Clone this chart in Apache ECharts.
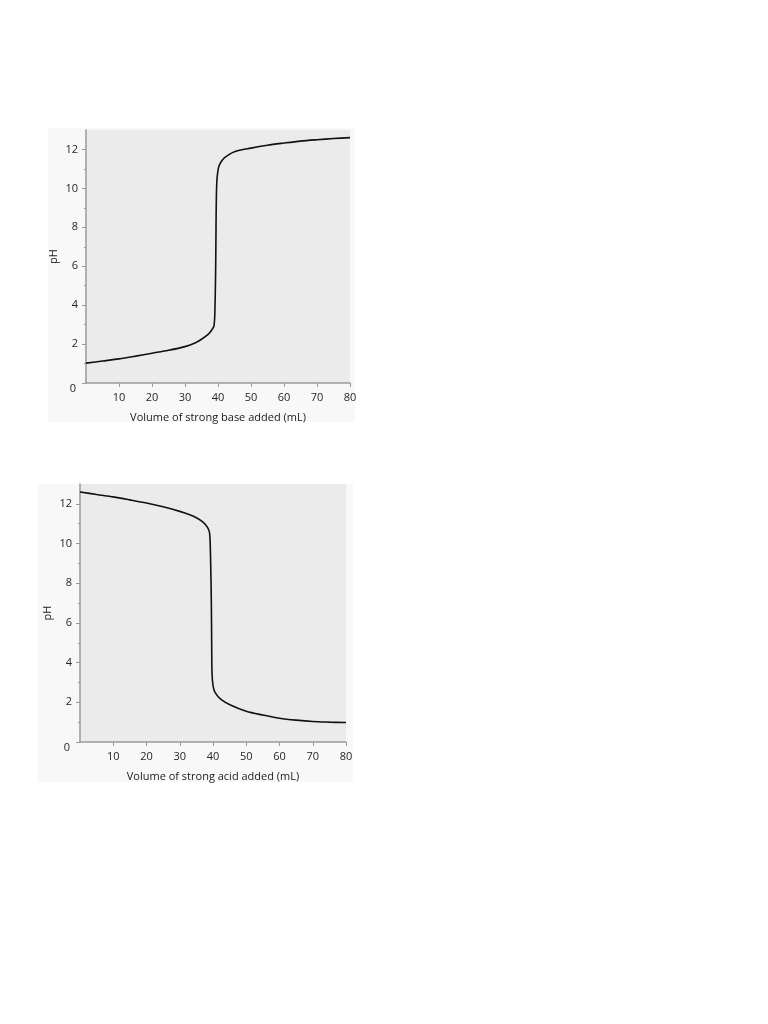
<!DOCTYPE html>
<html><head><meta charset="utf-8">
<script src="https://cdn.jsdelivr.net/npm/echarts@6/dist/echarts.min.js"></script>
<style>html,body{margin:0;padding:0;background:#fff}#c{width:768px;height:1024px}</style>
</head><body><div id="c"></div>
<script>
// Titration with strong base (top chart)
const baseVolume = [0, 5, 10, 15, 20, 25, 30, 33, 35, 37, 38, 38.8, 39.1, 39.3, 39.4, 39.5, 39.7, 40.2, 41, 42, 45, 50, 55, 60, 65, 70, 75, 80];
const basePH     = [1.02, 1.13, 1.24, 1.38, 1.53, 1.68, 1.87, 2.05, 2.25, 2.5, 2.7, 2.95, 4.0, 6.0, 8.0, 9.5, 10.5, 11.1, 11.38, 11.58, 11.88, 12.07, 12.22, 12.33, 12.43, 12.5, 12.56, 12.61];
// Titration with strong acid (bottom chart)
const acidVolume = [0, 5, 10, 15, 20, 25, 30, 33, 35, 37, 38.4, 39.0, 39.3, 39.5, 39.6, 39.7, 40.0, 40.6, 42.4, 45.4, 50, 55, 60, 65, 70, 75, 80];
const acidPH     = [12.6, 12.47, 12.35, 12.2, 12.04, 11.85, 11.62, 11.45, 11.3, 11.08, 10.8, 10.5, 9.0, 7.0, 5.0, 3.5, 2.85, 2.5, 2.15, 1.85, 1.55, 1.36, 1.2, 1.1, 1.03, 1.0, 0.98];
const xTicks = [10, 20, 30, 40, 50, 60, 70, 80];
const yTicks = [0, 2, 4, 6, 8, 10, 12];
const xNames = ['Volume of strong base added (mL)', 'Volume of strong acid added (mL)'];
const yName = 'pH';

const font = 'Open Sans, Lato, sans-serif';
const axisColor = '#9a9a9a';
function pairs(xs, ys) { return xs.map((x, i) => [x, ys[i]]); }

const grids = [
  {left: 86, width: 264, top: 130, height: 253},
  {left: 80, width: 266, top: 484, height: 258}
];
function xAxis(i) {
  return {
    gridIndex: i, type: 'value', min: 0, max: 80, interval: 10,
    name: xNames[i], nameLocation: 'middle', nameGap: 29,
    nameTextStyle: {fontFamily: font, fontSize: 11, color: '#1a1a1a'},
    axisLine: {show: true, lineStyle: {color: axisColor, width: 1.5}},
    axisTick: {show: true, length: 4, customValues: xTicks, lineStyle: {color: axisColor}},
    axisLabel: {customValues: xTicks, margin: 9, fontFamily: font, fontSize: 11, color: '#262626'},
    splitLine: {show: false}
  };
}
function yAxis(i) {
  return {
    gridIndex: i, type: 'value', min: 0, max: 13, interval: 1,
    name: yName, nameLocation: 'middle', nameGap: 27, nameRotate: 90,
    nameTextStyle: {fontFamily: font, fontSize: 11, color: '#1a1a1a'},
    axisLine: {show: true, lineStyle: {color: axisColor, width: 1.5}},
    axisTick: {show: true, length: 4, customValues: yTicks, lineStyle: {color: axisColor}},
    axisLabel: {
      customValues: yTicks, margin: 8, fontFamily: font, fontSize: 11, color: '#262626',
      formatter: v => v === 0 ? '{z|0}' : String(v),
      rich: {z: {fontFamily: font, fontSize: 11, color: '#262626', padding: [12, 2, 0, 0]}}
    },
    splitLine: {show: false}
  };
}
function minorY(i) {
  return {
    gridIndex: i, type: 'value', min: 0, max: 13, position: 'left',
    axisLine: {show: false},
    axisTick: {show: true, length: 2, customValues: [1, 3, 5, 7, 9, 11], lineStyle: {color: axisColor}},
    axisLabel: {show: false}, splitLine: {show: false}
  };
}
const chart = echarts.init(document.getElementById('c'));
chart.setOption({
  backgroundColor: '#fff',
  animation: false,
  graphic: [
    {type: 'rect', z: -10, shape: {x: 48, y: 128, width: 307, height: 294}, style: {fill: '#f8f8f8'}},
    {type: 'rect', z: -10, shape: {x: 38, y: 484, width: 315, height: 298}, style: {fill: '#f8f8f8'}}
  ],
  grid: grids.map(g => Object.assign({show: true, backgroundColor: '#ebebeb', borderWidth: 0}, g)),
  xAxis: [xAxis(0), xAxis(1)],
  yAxis: [yAxis(0), yAxis(1), minorY(0), minorY(1)],
  series: [
    {type: 'line', xAxisIndex: 0, yAxisIndex: 0, data: pairs(baseVolume, basePH), smooth: 0.3, showSymbol: false, lineStyle: {color: '#111', width: 1.6}},
    {type: 'line', xAxisIndex: 1, yAxisIndex: 1, data: pairs(acidVolume, acidPH), smooth: 0.3, showSymbol: false, lineStyle: {color: '#111', width: 1.6}}
  ]
});
</script></body></html>
